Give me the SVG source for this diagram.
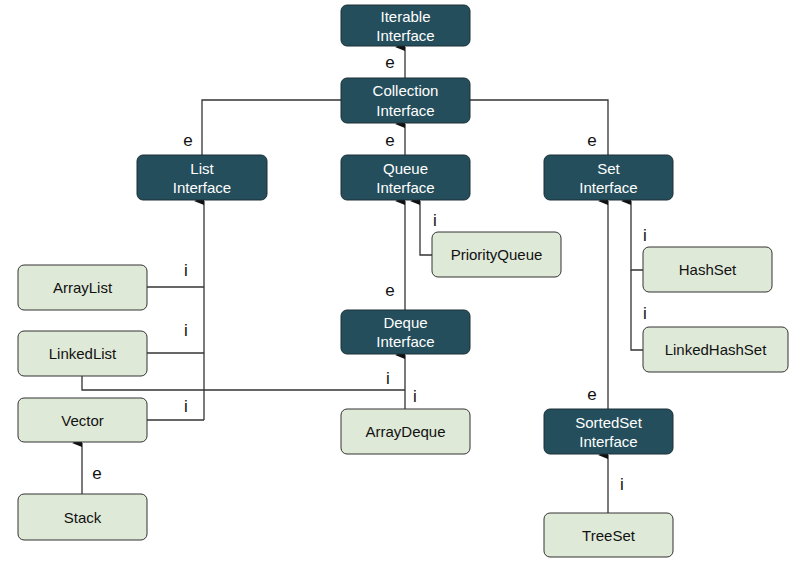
<svg xmlns="http://www.w3.org/2000/svg" width="800" height="574" viewBox="0 0 800 574">
<style>
.d rect{fill:#244e5b;stroke:#1c2f36;stroke-width:1}
.l rect{fill:#dfe9d8;stroke:#333;stroke-width:1}
text{font-family:"Liberation Sans",Arial,sans-serif;font-size:15px;text-anchor:middle}
.d text{fill:#fff}
.l text{fill:#111}
.c path{fill:none;stroke:#333;stroke-width:1.3}
.lb{font-size:17px;fill:#111}
</style>
<defs><marker id="a" markerWidth="8" markerHeight="10" refX="4" refY="10" orient="auto-start-reverse" markerUnits="userSpaceOnUse" viewBox="0 0 8 10"><path d="M0,10 L4,0 L8,10 Z" fill="#111"/></marker></defs>
<rect width="800" height="574" fill="#fff"/>
<g class="c">
<path d="M405,78 V47" marker-end="url(#a)"/>
<path d="M341,100 H202 V155"/>
<path d="M470,100 H608 V155"/>
<path d="M405,155 V124" marker-end="url(#a)"/>
<path d="M204,420 V201" marker-end="url(#a)"/>
<path d="M147,287 H204"/>
<path d="M147,353 H204"/>
<path d="M147,420 H204"/>
<path d="M82,376 V390 H405"/>
<path d="M405,409 V355" marker-end="url(#a)"/>
<path d="M405,310 V201" marker-end="url(#a)"/>
<path d="M432,255 H420 V201" marker-end="url(#a)"/>
<path d="M608,409 V201" marker-end="url(#a)"/>
<path d="M643,270 H631 V201" marker-end="url(#a)"/>
<path d="M643,350 H631 V270"/>
<path d="M608,513 V455" marker-end="url(#a)"/>
<path d="M82,494 V443" marker-end="url(#a)"/>
</g>
<g>
<text class="lb" x="390" y="68">e</text>
<text class="lb" x="188" y="146">e</text>
<text class="lb" x="390" y="146">e</text>
<text class="lb" x="592" y="146">e</text>
<text class="lb" x="186" y="276">i</text>
<text class="lb" x="186" y="336">i</text>
<text class="lb" x="186" y="412">i</text>
<text class="lb" x="388" y="384">i</text>
<text class="lb" x="415" y="402">i</text>
<text class="lb" x="390" y="296">e</text>
<text class="lb" x="435" y="226">i</text>
<text class="lb" x="592" y="400">e</text>
<text class="lb" x="645" y="241">i</text>
<text class="lb" x="645" y="319">i</text>
<text class="lb" x="622" y="490">i</text>
<text class="lb" x="97" y="479">e</text>
</g>
<g id="iterable" class="d"><rect x="341" y="5" width="129" height="41" rx="6"/><text x="405.5" y="22">Iterable</text><text x="405.5" y="41">Interface</text></g>
<g id="collection" class="d"><rect x="341" y="78" width="129" height="45" rx="6"/><text x="405.5" y="96">Collection</text><text x="405.5" y="116">Interface</text></g>
<g id="list" class="d"><rect x="137" y="155" width="130" height="45" rx="6"/><text x="202" y="174">List</text><text x="202" y="193">Interface</text></g>
<g id="queue" class="d"><rect x="341" y="155" width="129" height="45" rx="6"/><text x="405.5" y="174">Queue</text><text x="405.5" y="193">Interface</text></g>
<g id="set" class="d"><rect x="544" y="155" width="129" height="45" rx="6"/><text x="608.5" y="174">Set</text><text x="608.5" y="193">Interface</text></g>
<g id="priorityqueue" class="l"><rect x="432" y="232" width="129" height="45" rx="6"/><text x="496.5" y="260">PriorityQueue</text></g>
<g id="deque" class="d"><rect x="341" y="310" width="129" height="44" rx="6"/><text x="405.5" y="328">Deque</text><text x="405.5" y="347">Interface</text></g>
<g id="hashset" class="l"><rect x="643" y="247" width="129" height="45" rx="6"/><text x="707.5" y="275">HashSet</text></g>
<g id="linkedhashset" class="l"><rect x="643" y="327" width="145" height="45" rx="6"/><text x="715.5" y="355">LinkedHashSet</text></g>
<g id="arraylist" class="l"><rect x="18" y="265" width="129" height="45" rx="6"/><text x="82.5" y="293">ArrayList</text></g>
<g id="linkedlist" class="l"><rect x="18" y="331" width="129" height="45" rx="6"/><text x="82.5" y="359">LinkedList</text></g>
<g id="vector" class="l"><rect x="18" y="398" width="129" height="44" rx="6"/><text x="82.5" y="426">Vector</text></g>
<g id="stack" class="l"><rect x="18" y="494" width="129" height="46" rx="6"/><text x="82.5" y="523">Stack</text></g>
<g id="arraydeque" class="l"><rect x="341" y="409" width="129" height="45" rx="6"/><text x="405.5" y="437">ArrayDeque</text></g>
<g id="sortedset" class="d"><rect x="544" y="409" width="129" height="45" rx="6"/><text x="608.5" y="428">SortedSet</text><text x="608.5" y="447">Interface</text></g>
<g id="treeset" class="l"><rect x="544" y="513" width="129" height="44" rx="6"/><text x="608.5" y="541">TreeSet</text></g>
</svg>
